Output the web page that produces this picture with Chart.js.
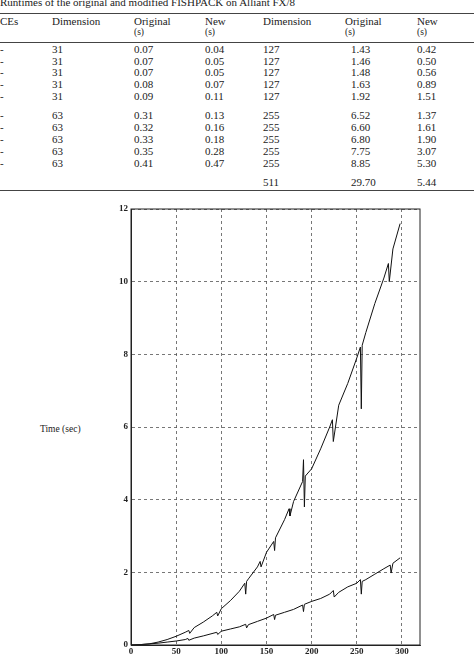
<!DOCTYPE html>
<html>
<head>
<meta charset="utf-8">
<script src="https://cdn.jsdelivr.net/npm/chart.js@4/dist/chart.umd.min.js"></script>
<style>
  body { margin: 0; background: #fff; font-family: "Liberation Serif", serif; color: #222; }
  #page { position: relative; width: 474px; height: 657px; overflow: hidden; }
  .t { position: absolute; font-size: 11px; white-space: nowrap; }
  .rule { position: absolute; left: 0; width: 474px; border-top: 1px solid #444; }
  #wrap { position: absolute; left: 0; top: 200px; width: 474px; height: 457px; }
  #ylab { position: absolute; left: 40px; top: 424px; font-size: 9.5px; }
</style>
</head>
<body>
<div id="page">
  <div class="t" style="left:0;top:-4px">Runtimes of the original and modified FISHPACK on Alliant FX/8</div>
  <div class="rule" style="top:13px"></div>
  <div class="rule" style="top:42px"></div>
  <div class="rule" style="top:190px"></div>
  <div id="table"></div>
  <div id="ylab">Time (sec)</div>
  <div id="wrap"><canvas id="c"></canvas></div>
</div>
<script>
// table data
const headers = [['CEs', ''], ['Dimension', ''], ['Original', '(s)'], ['New', '(s)'], ['Dimension', ''], ['Original', '(s)'], ['New', '(s)']];
const colX = [0, 52, 134, 205, 263, 345, 417];
const dimA = ['31', '31', '31', '31', '31', '63', '63', '63', '63', '63', ''];
const origA = ['0.07', '0.07', '0.07', '0.08', '0.09', '0.31', '0.32', '0.33', '0.35', '0.41', ''];
const newA = ['0.04', '0.05', '0.05', '0.07', '0.11', '0.13', '0.16', '0.18', '0.28', '0.47', ''];
const dimB = ['127', '127', '127', '127', '127', '255', '255', '255', '255', '255', '511'];
const origB = ['1.43', '1.46', '1.48', '1.63', '1.92', '6.52', '6.60', '6.80', '7.75', '8.85', '29.70'];
const newB = ['0.42', '0.50', '0.56', '0.89', '1.51', '1.37', '1.61', '1.90', '3.07', '5.30', '5.44'];
const rowY = [43, 55, 66, 78, 90, 109, 121, 133, 145, 157, 176];

// chart data: runtime vs dimension (x), original and new
const origX = [0, 10, 20, 30, 40, 50, 60, 64, 65, 70, 80, 90, 95, 96, 100, 110, 120, 126, 127, 128, 130, 140, 143, 144, 150, 158, 159, 160, 170, 175, 176, 180, 190, 191, 192, 193, 200, 210, 220, 223, 224, 230, 240, 250, 254, 255, 256, 260, 270, 280, 285, 286, 290, 298];
const origY = [0, 0.01, 0.03, 0.08, 0.15, 0.24, 0.35, 0.4, 0.32, 0.48, 0.63, 0.8, 0.9, 0.8, 1.0, 1.22, 1.48, 1.7, 1.4, 1.75, 1.82, 2.15, 2.3, 2.15, 2.55, 2.85, 2.6, 2.95, 3.45, 3.75, 3.55, 3.95, 4.5, 5.1, 3.8, 4.65, 4.85, 5.4, 6.0, 6.2, 5.6, 6.6, 7.2, 7.9, 8.2, 6.5, 8.25, 8.6, 9.4, 10.1, 10.5, 10.0, 10.9, 11.6];
const newX = [0, 10, 20, 30, 40, 50, 60, 63, 64, 70, 80, 95, 96, 100, 110, 120, 127, 128, 130, 140, 150, 158, 159, 160, 170, 180, 190, 191, 192, 200, 210, 220, 224, 225, 230, 240, 250, 254, 255, 256, 260, 270, 280, 287, 288, 290, 298];
const newY = [0, 0.01, 0.03, 0.05, 0.08, 0.11, 0.15, 0.18, 0.13, 0.19, 0.25, 0.35, 0.29, 0.38, 0.44, 0.5, 0.57, 0.47, 0.56, 0.65, 0.74, 0.84, 0.7, 0.82, 0.9, 0.98, 1.1, 0.92, 1.12, 1.2, 1.28, 1.4, 1.5, 1.32, 1.45, 1.6, 1.7, 1.8, 1.4, 1.75, 1.8, 1.95, 2.1, 2.2, 1.98, 2.25, 2.4];
const xTicks = [0, 50, 100, 150, 200, 250, 300];
const yTicks = [0, 2, 4, 6, 8, 10, 12];

let html = '';
headers.forEach((h, i) => {
  html += '<div class="t" style="left:' + colX[i] + 'px;top:15px">' + h[0] + '</div>';
  html += '<div class="t" style="left:' + colX[i] + 'px;top:27px;font-size:9.5px">' + h[1] + '</div>';
});
const cols = [dimA, origA, newA, dimB, origB, newB];
rowY.forEach((y, r) => {
  if (r < 10) html += '<div class="t" style="left:0;top:' + y + 'px">-</div>';
  cols.forEach((col, ci) => {
    html += '<div class="t" style="left:' + (colX[ci + 1] + (ci === 4 ? 6 : 0)) + 'px;top:' + y + 'px">' + col[r] + '</div>';
  });
});
document.getElementById('table').innerHTML = html;

const toPts = (xs, ys) => xs.map((x, i) => ({ x: x, y: ys[i] }));

const boxPlugin = {
  id: 'box',
  afterDraw(chart) {
    const a = chart.chartArea, ctx = chart.ctx;
    ctx.save();
    ctx.strokeStyle = '#222';
    ctx.lineWidth = 1;
    ctx.strokeRect(a.left, a.top, a.right - a.left, a.bottom - a.top);
    ctx.restore();
  }
};

new Chart(document.getElementById('c'), {
  type: 'line',
  data: {
    datasets: [
      { data: toPts(origX, origY), borderColor: '#111', borderWidth: 1, pointRadius: 0, tension: 0 },
      { data: toPts(newX, newY), borderColor: '#111', borderWidth: 1, pointRadius: 0, tension: 0 }
    ]
  },
  options: {
    responsive: true,
    maintainAspectRatio: false,
    animation: false,
    layout: { padding: { left: 111, right: 54, top: 9, bottom: 0 } },
    plugins: { legend: { display: false }, tooltip: { enabled: false } },
    scales: {
      x: {
        type: 'linear', min: 0, max: 320,
        afterBuildTicks: s => { s.ticks = xTicks.map(v => ({ value: v })); },
        afterFit: s => { s.height = 12; },
        ticks: { color: '#222', padding: 1, font: { family: 'Liberation Serif', size: 9, weight: 'bold' } },
        grid: { color: '#555', lineWidth: 0.8, drawTicks: false },
        border: { dash: [3, 3], color: '#222' }
      },
      y: {
        min: 0, max: 12,
        afterBuildTicks: s => { s.ticks = yTicks.map(v => ({ value: v })); },
        afterFit: s => { s.width = 20; },
        ticks: { color: '#222', padding: 3, font: { family: 'Liberation Serif', size: 9, weight: 'bold' } },
        grid: { color: '#555', lineWidth: 0.8, drawTicks: false },
        border: { dash: [3, 3], color: '#222' }
      }
    }
  },
  plugins: [boxPlugin]
});
</script>
</body>
</html>
